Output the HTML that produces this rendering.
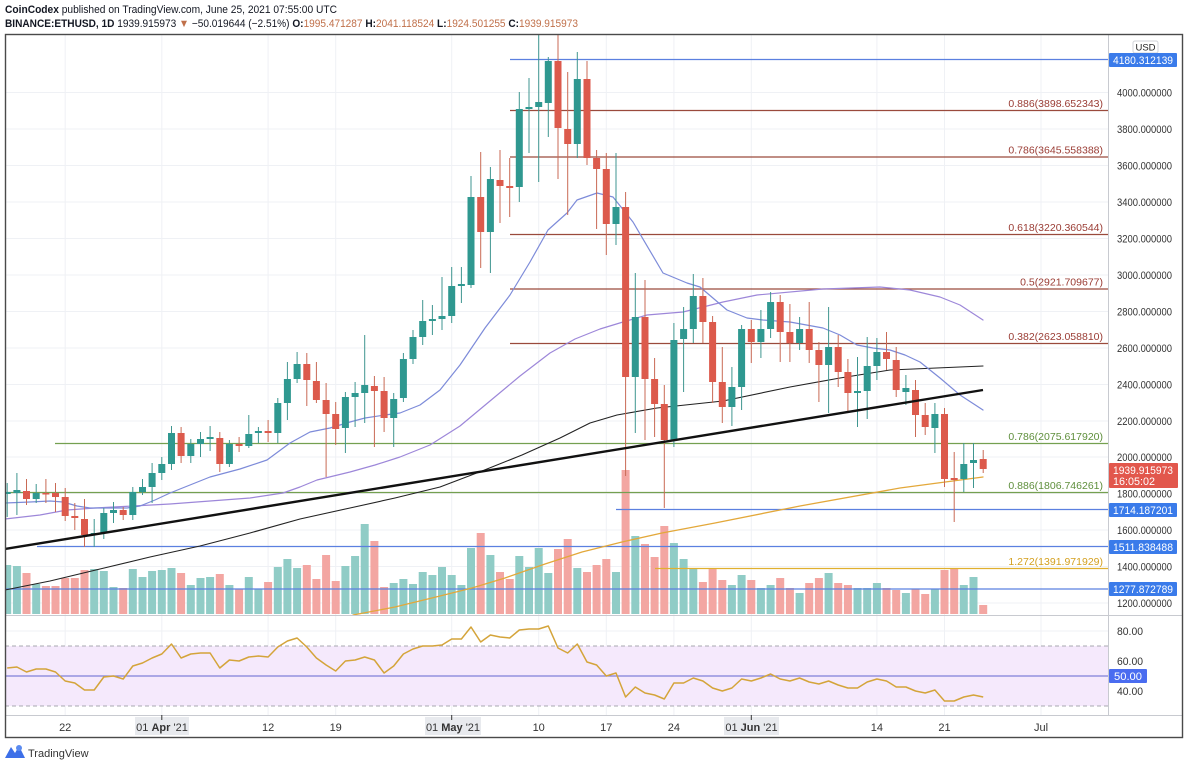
<!DOCTYPE html>
<html><head><meta charset="utf-8"><style>
html,body{margin:0;padding:0;background:#fff;width:1186px;height:768px;overflow:hidden}
svg{display:block;font-family:"Liberation Sans",Arial,sans-serif}
</style></head><body>
<svg width="1186" height="768" viewBox="0 0 1186 768" xmlns="http://www.w3.org/2000/svg">
<defs>
<clipPath id="mp"><rect x="5" y="35" width="1103" height="580"/></clipPath>
<clipPath id="rp"><rect x="5" y="616" width="1103" height="99"/></clipPath>
</defs>
<rect width="1186" height="768" fill="#fff"/>

<!-- header -->
<text x="5" y="13" font-size="11" fill="#131722" textLength="332" lengthAdjust="spacingAndGlyphs"><tspan font-weight="bold">CoinCodex</tspan> published on TradingView.com, June 25, 2021 07:55:00 UTC</text>
<text x="5" y="27" font-size="11" fill="#131722" textLength="573" lengthAdjust="spacingAndGlyphs"><tspan font-weight="bold">BINANCE:ETHUSD, 1D</tspan> 1939.915973 <tspan fill="#c0704a">▼</tspan> −50.019644 (−2.51%) <tspan font-weight="bold">O:</tspan><tspan fill="#c0704a">1995.471287</tspan> <tspan font-weight="bold">H:</tspan><tspan fill="#c0704a">2041.118524</tspan> <tspan font-weight="bold">L:</tspan><tspan fill="#c0704a">1924.501255</tspan> <tspan font-weight="bold">C:</tspan><tspan fill="#c0704a">1939.915973</tspan></text>

<!-- grid -->
<g stroke="#eff1f5" stroke-width="1">
<path d="M65.2 35V715M161.8 35V715M268.1 35V715M335.7 35V715M451.7 35V715M538.7 35V715M606.3 35V715M673.9 35V715M751.3 35V715M876.9 35V715M944.5 35V715M1041 35V715"/>
<path d="M5 92.5H1108M5 129H1108M5 165.5H1108M5 202H1108M5 238.5H1108M5 275H1108M5 311.5H1108M5 348H1108M5 384.5H1108M5 421H1108M5 457H1108M5 493.5H1108M5 530H1108M5 566.5H1108M5 603H1108M5 631H1108M5 661H1108M5 691H1108"/>
</g>

<g clip-path="url(#mp)">
<!-- volume -->
<path fill="#90ccc6" d="M3.2 565h8V614h-8zM12.9 566h8V614h-8zM32.2 584h8V614h-8zM90.2 569h8V614h-8zM99.8 571h8V614h-8zM109.5 587h8V614h-8zM128.8 569h8V614h-8zM138.5 577h8V614h-8zM148.1 571h8V614h-8zM157.8 570h8V614h-8zM167.5 568h8V614h-8zM186.8 585h8V614h-8zM196.5 578h8V614h-8zM206.1 577h8V614h-8zM225.4 585h8V614h-8zM244.8 577h8V614h-8zM254.4 589h8V614h-8zM273.8 567h8V614h-8zM283.4 559h8V614h-8zM293.1 568h8V614h-8zM341.4 566h8V614h-8zM351.1 556h8V614h-8zM360.7 524h8V614h-8zM389.7 583h8V614h-8zM399.4 579h8V614h-8zM409 584h8V614h-8zM418.7 572h8V614h-8zM428.4 575h8V614h-8zM438 567h8V614h-8zM447.7 575h8V614h-8zM457.4 585h8V614h-8zM467 548h8V614h-8zM486.4 555h8V614h-8zM515.3 556h8V614h-8zM525 567h8V614h-8zM534.7 548h8V614h-8zM544.3 573h8V614h-8zM573.3 568h8V614h-8zM612 572h8V614h-8zM631.3 536h8V614h-8zM669.9 543h8V614h-8zM679.6 559h8V614h-8zM689.3 568h8V614h-8zM727.9 585h8V614h-8zM737.6 575h8V614h-8zM756.9 588h8V614h-8zM766.6 585h8V614h-8zM795.6 593h8V614h-8zM824.6 573h8V614h-8zM853.5 588h8V614h-8zM863.2 588h8V614h-8zM872.9 583h8V614h-8zM901.9 593h8V614h-8zM930.9 589h8V614h-8zM959.8 585h8V614h-8zM969.5 577h8V614h-8z"/>
<path fill="#f3a6a2" d="M22.5 573h8V614h-8zM41.9 586h8V614h-8zM51.5 586h8V614h-8zM61.2 578h8V614h-8zM70.8 578h8V614h-8zM80.5 570h8V614h-8zM119.2 588h8V614h-8zM177.1 573h8V614h-8zM215.8 574h8V614h-8zM235.1 589h8V614h-8zM264.1 582h8V614h-8zM302.8 565h8V614h-8zM312.4 579h8V614h-8zM322.1 555h8V614h-8zM331.7 581h8V614h-8zM370.4 541h8V614h-8zM380.1 587h8V614h-8zM476.7 533h8V614h-8zM496 572h8V614h-8zM505.7 579h8V614h-8zM554 549h8V614h-8zM563.7 539h8V614h-8zM583 572h8V614h-8zM592.6 565h8V614h-8zM602.3 559h8V614h-8zM621.6 470h8V614h-8zM641 544h8V614h-8zM650.6 557h8V614h-8zM660.3 526h8V614h-8zM698.9 582h8V614h-8zM708.6 568h8V614h-8zM718.3 580h8V614h-8zM747.3 580h8V614h-8zM776.2 578h8V614h-8zM785.9 588h8V614h-8zM805.2 583h8V614h-8zM814.9 578h8V614h-8zM834.2 583h8V614h-8zM843.9 585h8V614h-8zM882.5 588h8V614h-8zM892.2 590h8V614h-8zM911.5 589h8V614h-8zM921.2 594h8V614h-8zM940.5 570h8V614h-8zM950.2 568h8V614h-8zM979.2 605h8V614h-8z"/>

<!-- horizontal levels -->
<g fill="none" stroke-width="1.2">
<path stroke="#5b80e0" d="M510 59.5H1108M616 509.5H1108M37 546.5H1108M5 589H1108"/>
<path stroke="#9a4a3c" d="M510 110.5H1108M510 157H1108M510 234.5H1108M510 289H1108M510 343.5H1108"/>
<path stroke="#74a050" d="M55 443.5H1108M5 492.5H1108"/>
<path stroke="#e0b030" d="M655 568.5H1108"/>
</g>

<!-- moving averages -->
<g fill="none" stroke-linejoin="round" stroke-linecap="round">
<polyline stroke="#e3a83a" stroke-width="1.3" points="353,615 395,607 440,596 472,588 505,578 545,564 582,552 622,542 662,533 715,523 800,506 900,488 983,477"/>
<polyline stroke="#222" stroke-width="1.1" points="5,590 50,581 100,569 150,557 200,546 250,533 300,519 350,508 395,498 440,487 482,471 522,455 560,438 590,423 617,415 657,408 723,401 790,387 840,378 890,370 983,366"/>
<polyline stroke="#9d87d9" stroke-width="1.2" points="5,519 40,515 67,510 95,508 133,506 170,504 210,501 250,498 283,493 300,487 317,480 350,472 375,465 400,457 430,445 460,426 490,401 520,376 550,353 575,339 600,329 623,322 647,315 683,312 723,302 757,295 823,289 880,287 910,290 940,297 960,305 983,320"/>
<polyline stroke="#7d8bd9" stroke-width="1.2" points="5,503 30,502 50,501 63,502 77,506 90,508 127,508 140,506 155,500 170,493 190,485 210,477 240,469 267,460 290,443 310,432 330,428 350,422 365,418 385,415 400,413 420,405 440,390 460,365 485,328 510,295 530,262 548,230 567,213 577,200 597,193 613,197 633,222 663,273 687,283 700,287 727,310 747,318 763,320 790,322 823,328 840,335 857,345 873,348 890,350 905,355 920,362 940,378 960,395 983,410"/>
</g>

<!-- candles -->
<path stroke="#3f9690" stroke-width="1" fill="none" d="M7.2 483V517M16.9 473V515M36.2 484V503M94.2 519V547M103.8 508V539M113.5 502V523M132.8 487V520M142.5 479V495M152.1 463V503M161.8 457V480M171.5 426V470M190.8 439V463M200.5 432V457M210.1 426V451M229.4 440V467M248.8 415V448M258.4 427V443M277.8 398V443M287.4 362V420M297.1 352V383M345.4 392V453M355.1 382V427M364.7 335V423M393.7 393V447M403.4 353V402M413 330V364M422.7 300V345M432.4 305V335M442 277V330M451.7 267V323M461.4 267V303M471 176V288M490.4 167V273M519.3 92V202M529 78V153M538.7 35V182M548.3 57V137M577.3 52V158M616 153V245M635.3 273V433M673.9 323V447M683.6 307V392M693.3 274V343M731.9 367V426M741.6 325V410M760.9 310V358M770.6 292V338M799.6 317V350M828.6 307V413M857.5 357V427M867.2 337V419M876.9 338V380M905.9 375V405M934.9 403V453M963.8 443V492M973.5 443V488"/>
<path fill="#2f9890" d="M3.7 492h7V494h-7zM13.4 490h7V493h-7zM32.7 493h7V499h-7zM90.7 533h7V535h-7zM100.3 513h7V533h-7zM110 510h7V513h-7zM129.3 492h7V515h-7zM139 487h7V492h-7zM148.6 473h7V487h-7zM158.3 464h7V473h-7zM168 433h7V464h-7zM187.3 444h7V456h-7zM197 439h7V444h-7zM206.6 437h7V439h-7zM225.9 444h7V464h-7zM245.3 434h7V446h-7zM254.9 431h7V433h-7zM274.3 403h7V433h-7zM283.9 379h7V403h-7zM293.6 364h7V379h-7zM341.9 397h7V428h-7zM351.6 393h7V397h-7zM361.2 385h7V393h-7zM390.2 399h7V418h-7zM399.9 359h7V398h-7zM409.5 337h7V359h-7zM419.2 321h7V337h-7zM428.9 319h7V321h-7zM438.5 316h7V319h-7zM448.2 286h7V316h-7zM457.9 284h7V286h-7zM467.5 197h7V285h-7zM486.9 179h7V232h-7zM515.8 109h7V187h-7zM525.5 107h7V109h-7zM535.2 102h7V107h-7zM544.8 61h7V103h-7zM573.8 79h7V144h-7zM612.5 207h7V224h-7zM631.8 317h7V377h-7zM670.4 340h7V440h-7zM680.1 329h7V339h-7zM689.8 296h7V329h-7zM728.4 387h7V407h-7zM738.1 329h7V387h-7zM757.4 329h7V342h-7zM767.1 302h7V329h-7zM796.1 329h7V343h-7zM825.1 347h7V365h-7zM854 391h7V393h-7zM863.7 366h7V391h-7zM873.4 352h7V366h-7zM902.4 388h7V392h-7zM931.4 414h7V428h-7zM960.3 464h7V479h-7zM970 460h7V463h-7z"/>
<path stroke="#c96a55" stroke-width="1" fill="none" d="M26.5 479V505M45.9 479V503M55.5 483V512M65.2 488V521M74.8 503V530M84.5 499V547M123.2 507V520M181.1 427V463M219.8 432V472M239.1 437V452M268.1 420V442M306.8 353V406M316.4 362V403M326.1 383V477M335.7 402V445M374.4 376V447M384.1 377V432M480.7 152V268M500 150V223M509.7 158V217M558 35V179M567.7 72V215M587 61V165M596.6 150V229M606.3 153V255M625.6 192V476M645 280V440M654.6 358V437M664.3 385V508M702.9 278V343M712.6 316V403M722.3 347V423M751.3 320V363M780.2 295V362M789.9 304V362M809.2 302V363M818.9 342V402M838.2 335V387M847.9 359V412M886.5 332V370M896.2 347V397M915.5 380V437M925.2 403V435M944.5 408V487M954.2 452V522M983.2 450V473"/>
<path fill="#dc5a4c" d="M23 491h7V499h-7zM42.4 493h7V494.5h-7zM52 493h7V497h-7zM61.7 497h7V516h-7zM71.3 516h7V518h-7zM81 519h7V535h-7zM119.7 510h7V515h-7zM177.6 433h7V456h-7zM216.3 438h7V464h-7zM235.6 444h7V446h-7zM264.6 431h7V433h-7zM303.3 364h7V380h-7zM312.9 381h7V400h-7zM322.6 400h7V414h-7zM332.2 414h7V429h-7zM370.9 386h7V391h-7zM380.6 391h7V418h-7zM477.2 197h7V232h-7zM496.5 180h7V186h-7zM506.2 186h7V188h-7zM554.5 61h7V128h-7zM564.2 129h7V144h-7zM583.5 79h7V158h-7zM593.1 158h7V169h-7zM602.8 169h7V224h-7zM622.1 207h7V377h-7zM641.5 317h7V379h-7zM651.1 379h7V404h-7zM660.8 404h7V440h-7zM699.4 296h7V322h-7zM709.1 322h7V382h-7zM718.8 382h7V407h-7zM747.8 329h7V342h-7zM776.7 302h7V332h-7zM786.4 332h7V343h-7zM805.7 329h7V350h-7zM815.4 350h7V365h-7zM834.7 347h7V372h-7zM844.4 372h7V393h-7zM883 352h7V359h-7zM892.7 360h7V390h-7zM912 390h7V415h-7zM921.7 415h7V427h-7zM941 414h7V479h-7zM950.7 478h7V480h-7zM979.7 459h7V469h-7z"/>

<!-- trend line -->
<line x1="5" y1="549" x2="983" y2="390" stroke="#111" stroke-width="2.4"/>
</g>

<!-- level labels -->
<g font-size="10.5" text-anchor="end">
<text x="1103" y="107" fill="#9a3c34">0.886(3898.652343)</text>
<text x="1103" y="153.5" fill="#9a3c34">0.786(3645.558388)</text>
<text x="1103" y="231" fill="#9a3c34">0.618(3220.360544)</text>
<text x="1103" y="285.5" fill="#9a3c34">0.5(2921.709677)</text>
<text x="1103" y="340" fill="#9a3c34">0.382(2623.058810)</text>
<text x="1103" y="440" fill="#5f8f3c">0.786(2075.617920)</text>
<text x="1103" y="489" fill="#5f8f3c">0.886(1806.746261)</text>
<text x="1103" y="565" fill="#d4a020">1.272(1391.971929)</text>
</g>

<!-- RSI pane -->
<g clip-path="url(#rp)">
<rect x="5" y="646" width="1103" height="60" fill="#f5e9fc"/>
<path d="M5 646H1108M5 706H1108" stroke="#a8a8b0" stroke-width="1" stroke-dasharray="4,3"/>
<path d="M5 676H1108" stroke="#7f80d8" stroke-width="1.2"/>
<polyline fill="none" stroke="#d4a43a" stroke-width="1.5" stroke-linejoin="round" points="7.2,668 16.9,667 26.5,672 36.2,669 45.9,669 55.5,672 65.2,681 74.8,683 84.5,690 94.2,690 103.8,677 113.5,676 123.2,679 132.8,666 142.5,663 152.1,658 161.8,654 171.5,644 181.1,658 190.8,654 200.5,653 210.1,653 219.8,668 229.4,660 239.1,661 248.8,657 258.4,656 268.1,657 277.8,647 287.4,641 297.1,638 306.8,647 316.4,658 326.1,665 335.7,671 345.4,661 355.1,660 364.7,657 374.4,660 384.1,673 393.7,666 403.4,654 413,649 422.7,646 432.4,646 442,645 451.7,639 461.4,639 471,627 480.7,642 490.4,635 500,637 509.7,638 519.3,630 529,629 538.7,629 548.3,626 558,648 567.7,653 577.3,644 587,662 596.6,665 606.3,676 616,673 625.6,697 635.3,687 645,693 654.6,695 664.3,699 673.9,683 683.6,683 693.3,678 702.9,681 712.6,688 722.3,691 731.9,688 741.6,679 751.3,681 760.9,678 770.6,674 780.2,679 789.9,681 799.6,678 809.2,682 818.9,684 828.6,681 838.2,685 847.9,688 857.5,688 867.2,682 876.9,679 886.5,681 896.2,687 905.9,687 915.5,691 925.2,693 934.9,690 944.5,701 954.2,701 963.8,697 973.5,695 983.2,697"/>
</g>

<!-- separators & frame -->
<path d="M5 615.5H1183M5 715.5H1183M1108.5 35V715" stroke="#c8cad0" stroke-width="1" fill="none"/>
<rect x="5.5" y="34.5" width="1177" height="703" fill="none" stroke="#4a4a4a" stroke-width="1.4"/>

<!-- price axis labels -->
<g font-size="11" fill="#333">
<text x="1117" y="96.5" textLength="55" lengthAdjust="spacingAndGlyphs">4000.000000</text>
<text x="1117" y="133" textLength="55" lengthAdjust="spacingAndGlyphs">3800.000000</text>
<text x="1117" y="169.5" textLength="55" lengthAdjust="spacingAndGlyphs">3600.000000</text>
<text x="1117" y="206" textLength="55" lengthAdjust="spacingAndGlyphs">3400.000000</text>
<text x="1117" y="242.5" textLength="55" lengthAdjust="spacingAndGlyphs">3200.000000</text>
<text x="1117" y="279" textLength="55" lengthAdjust="spacingAndGlyphs">3000.000000</text>
<text x="1117" y="315.5" textLength="55" lengthAdjust="spacingAndGlyphs">2800.000000</text>
<text x="1117" y="352" textLength="55" lengthAdjust="spacingAndGlyphs">2600.000000</text>
<text x="1117" y="388.5" textLength="55" lengthAdjust="spacingAndGlyphs">2400.000000</text>
<text x="1117" y="425" textLength="55" lengthAdjust="spacingAndGlyphs">2200.000000</text>
<text x="1117" y="461" textLength="55" lengthAdjust="spacingAndGlyphs">2000.000000</text>
<text x="1117" y="497.5" textLength="55" lengthAdjust="spacingAndGlyphs">1800.000000</text>
<text x="1117" y="534" textLength="55" lengthAdjust="spacingAndGlyphs">1600.000000</text>
<text x="1117" y="570.5" textLength="55" lengthAdjust="spacingAndGlyphs">1400.000000</text>
<text x="1117" y="607" textLength="55" lengthAdjust="spacingAndGlyphs">1200.000000</text>
<text x="1117" y="635" textLength="26" lengthAdjust="spacingAndGlyphs">80.00</text>
<text x="1117" y="665" textLength="26" lengthAdjust="spacingAndGlyphs">60.00</text>
<text x="1117" y="695" textLength="26" lengthAdjust="spacingAndGlyphs">40.00</text>
</g>

<!-- axis tags -->
<rect x="1133" y="41" width="25" height="12" rx="2" fill="#fff" stroke="#d0d3d8"/>
<text x="1145.5" y="50.5" font-size="9.5" text-anchor="middle" fill="#222">USD</text>
<g font-size="11" fill="#fff">
<rect x="1109" y="53" width="68" height="14" rx="1" fill="#3a7bea"/>
<text x="1113" y="64" textLength="60" lengthAdjust="spacingAndGlyphs">4180.312139</text>
<rect x="1109" y="463" width="69" height="25" rx="1" fill="#e2574c"/>
<text x="1113" y="474" textLength="60" lengthAdjust="spacingAndGlyphs">1939.915973</text>
<text x="1113" y="485" textLength="42" lengthAdjust="spacingAndGlyphs">16:05:02</text>
<rect x="1109" y="503" width="68" height="14" rx="1" fill="#3a7bea"/>
<text x="1113" y="514" textLength="60" lengthAdjust="spacingAndGlyphs">1714.187201</text>
<rect x="1109" y="540" width="68" height="14" rx="1" fill="#3a7bea"/>
<text x="1113" y="551" textLength="60" lengthAdjust="spacingAndGlyphs">1511.838488</text>
<rect x="1109" y="582" width="68" height="14" rx="1" fill="#3a7bea"/>
<text x="1113" y="593" textLength="60" lengthAdjust="spacingAndGlyphs">1277.872789</text>
<rect x="1109" y="669" width="38" height="14" rx="1" fill="#4a6cf0"/>
<text x="1114" y="680" textLength="28" lengthAdjust="spacingAndGlyphs">50.00</text>
</g>

<!-- time axis -->
<g fill="#e8eaee">
<rect x="135" y="717" width="54" height="18"/>
<rect x="425" y="717" width="56" height="18"/>
<rect x="724" y="717" width="55" height="18"/>
</g>
<path d="M161.8 715V720M451.7 715V720M751.3 715V720" stroke="#333" stroke-width="1"/>
<g font-size="11" fill="#333" text-anchor="middle">
<text x="65.2" y="731">22</text>
<text x="162" y="731">01 <tspan font-weight="bold">Apr</tspan> '21</text>
<text x="268.1" y="731">12</text>
<text x="335.7" y="731">19</text>
<text x="453" y="731">01 <tspan font-weight="bold">May</tspan> '21</text>
<text x="538.7" y="731">10</text>
<text x="606.3" y="731">17</text>
<text x="673.9" y="731">24</text>
<text x="751.5" y="731">01 <tspan font-weight="bold">Jun</tspan> '21</text>
<text x="876.9" y="731">14</text>
<text x="944.5" y="731">21</text>
<text x="1041" y="731">Jul</text>
</g>

<!-- TradingView logo -->
<g fill="#2962ff">
<path d="M5 758 L11 747 L15 753 L19 746 L25 758 Z" fill="#3d6fe8"/>
<circle cx="19" cy="748" r="3" fill="#5b8bf0"/>
</g>
<text x="28" y="757" font-size="11" fill="#333">TradingView</text>
</svg>
</body></html>
